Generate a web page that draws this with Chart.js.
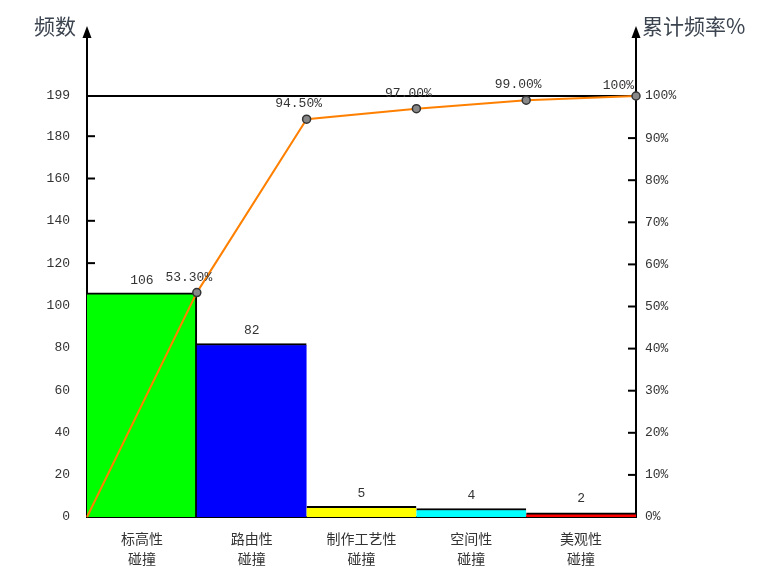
<!DOCTYPE html>
<html>
<head>
<meta charset="utf-8">
<script src="https://cdn.jsdelivr.net/npm/chart.js@4"></script>
<style>
  html, body { margin: 0; padding: 0; background: #fff; }
  #wrap { width: 760px; height: 570px; }
</style>
</head>
<body>
<div id="wrap"><canvas id="pareto" width="760" height="570"></canvas></div>
<script>
const categories = [['标高性', '碰撞'], ['路由性', '碰撞'], ['制作工艺性', '碰撞'], ['空间性', '碰撞'], ['美观性', '碰撞']];
const counts = [106, 82, 5, 4, 2];
const cumPct = [0, 53.3, 94.5, 97.0, 99.0, 100];
const cumLabels = ['', '53.30%', '94.50%', '97.00%', '99.00%', '100%'];
const leftTicks = [0, 20, 40, 60, 80, 100, 120, 140, 160, 180, 199];
const rightTicks = [0, 10, 20, 30, 40, 50, 60, 70, 80, 90, 100];
const barColors = ['#00FF00', '#0000FF', '#FFFF00', '#00FFFF', '#FF0000'];

const numFont = '13px "Liberation Mono", "DejaVu Sans Mono", monospace';
const cjkFont = '"Noto Sans CJK SC", sans-serif';

// axes arrows, inward tick marks, titles, value labels
const decorations = {
    id: 'decorations',
    beforeDatasetsDraw(chart) {
        const ctx = chart.ctx;
        const a = chart.chartArea;
        const y = chart.scales.y, y2 = chart.scales.y2;
        ctx.save();
        ctx.strokeStyle = '#000';
        ctx.fillStyle = '#000';
        ctx.lineWidth = 2;

        // top line at max
        ctx.beginPath();
        ctx.moveTo(a.left, y.getPixelForValue(199));
        ctx.lineTo(a.right, y.getPixelForValue(199));
        ctx.stroke();

        // axis lines with arrows
        [a.left, a.right].forEach(x => {
            ctx.beginPath();
            ctx.moveTo(x, a.bottom);
            ctx.lineTo(x, 36);
            ctx.stroke();
            ctx.beginPath();
            ctx.moveTo(x, 26);
            ctx.lineTo(x - 4.5, 38);
            ctx.lineTo(x + 4.5, 38);
            ctx.closePath();
            ctx.fill();
        });

        // inward ticks
        leftTicks.forEach(v => {
            if (v === 0 || v === 199) return;
            const py = y.getPixelForValue(v);
            ctx.beginPath(); ctx.moveTo(a.left, py); ctx.lineTo(a.left + 8, py); ctx.stroke();
        });
        rightTicks.forEach(v => {
            if (v === 0 || v === 100) return;
            const py = y2.getPixelForValue(v);
            ctx.beginPath(); ctx.moveTo(a.right, py); ctx.lineTo(a.right - 8, py); ctx.stroke();
        });

        // titles
        ctx.fillStyle = '#3c4450';
        ctx.font = '21px ' + cjkFont;
        ctx.textBaseline = 'alphabetic';
        ctx.textAlign = 'left';
        ctx.fillText('频数', 34, 34);
        ctx.fillText('累计频率%', 642, 34);
        ctx.restore();
    },
    afterDatasetsDraw(chart) {
        const ctx = chart.ctx;
        ctx.save();
        // bar values
        ctx.fillStyle = '#333';
        ctx.font = numFont;
        ctx.textAlign = 'center';
        ctx.textBaseline = 'bottom';
        chart.getDatasetMeta(0).data.forEach((bar, i) => {
            const ty = Math.min(bar.y - 6, 505);
            ctx.fillText(String(counts[i]), bar.x, ty);
        });

        // cumulative labels
        chart.getDatasetMeta(1).data.forEach((pt, i) => {
            if (!cumLabels[i]) return;
            if (i === cumLabels.length - 1) {
                ctx.textAlign = 'right';
                ctx.fillText(cumLabels[i], pt.x - 2, pt.y - 4);
            } else {
                ctx.textAlign = 'center';
                ctx.fillText(cumLabels[i], pt.x - 8, pt.y - 9);
            }
        });
        ctx.restore();
    }
};

new Chart(document.getElementById('pareto'), {
    type: 'bar',
    data: {
        labels: categories,
        datasets: [{
            type: 'bar',
            data: counts,
            backgroundColor: barColors,
            borderColor: '#000',
            borderWidth: ctx => ctx.dataIndex === 0 ? {top: 2, right: 2, left: 0, bottom: 0} : {top: 2, right: 0, left: 0, bottom: 0},
            borderSkipped: false,
            grouped: false,
            barPercentage: 1,
            categoryPercentage: 1,
            xAxisID: 'x',
            yAxisID: 'y',
            order: 1
        }, {
            type: 'line',
            data: cumPct.map((v, i) => ({x: i, y: v})),
            borderColor: '#FF8000',
            borderWidth: 2,
            pointRadius: cumPct.map((v, i) => i === 0 ? 0 : 4),
            pointBackgroundColor: '#888',
            pointBorderColor: '#333',
            pointBorderWidth: 1.5,
            tension: 0,
            clip: false,
            xAxisID: 'x2',
            yAxisID: 'y2',
            order: 0
        }]
    },
    options: {
        responsive: false,
        animation: false,
        layout: { padding: { top: 96, left: 0, right: 0, bottom: 0 } },
        plugins: { legend: { display: false }, tooltip: { enabled: false } },
        scales: {
            x: {
                offset: true,
                grid: { display: false },
                border: { display: true, color: '#000', width: 2 },
                ticks: { color: '#333', font: { family: cjkFont, size: 14, lineHeight: 1.4 }, padding: 4, maxRotation: 0, autoSkip: false },
                afterFit: s => { s.height = 53; }
            },
            x2: { type: 'linear', min: 0, max: 5, offset: false, display: false },
            y: {
                position: 'left',
                min: 0, max: 199,
                afterBuildTicks: s => { s.ticks = leftTicks.map(v => ({value: v})); },
                grid: { display: false, drawTicks: false },
                border: { display: false },
                ticks: { color: '#333', font: { family: '"Liberation Mono", monospace', size: 13 }, padding: 17 },
                afterFit: s => { s.width = 87; }
            },
            y2: {
                position: 'right',
                min: 0, max: 100,
                afterBuildTicks: s => { s.ticks = rightTicks.map(v => ({value: v})); },
                grid: { display: false, drawTicks: false },
                border: { display: false },
                ticks: { color: '#333', font: { family: '"Liberation Mono", monospace', size: 13 }, padding: 9, callback: v => v + '%' },
                afterFit: s => { s.width = 124; }
            }
        }
    },
    plugins: [decorations]
});
</script>
</body>
</html>
